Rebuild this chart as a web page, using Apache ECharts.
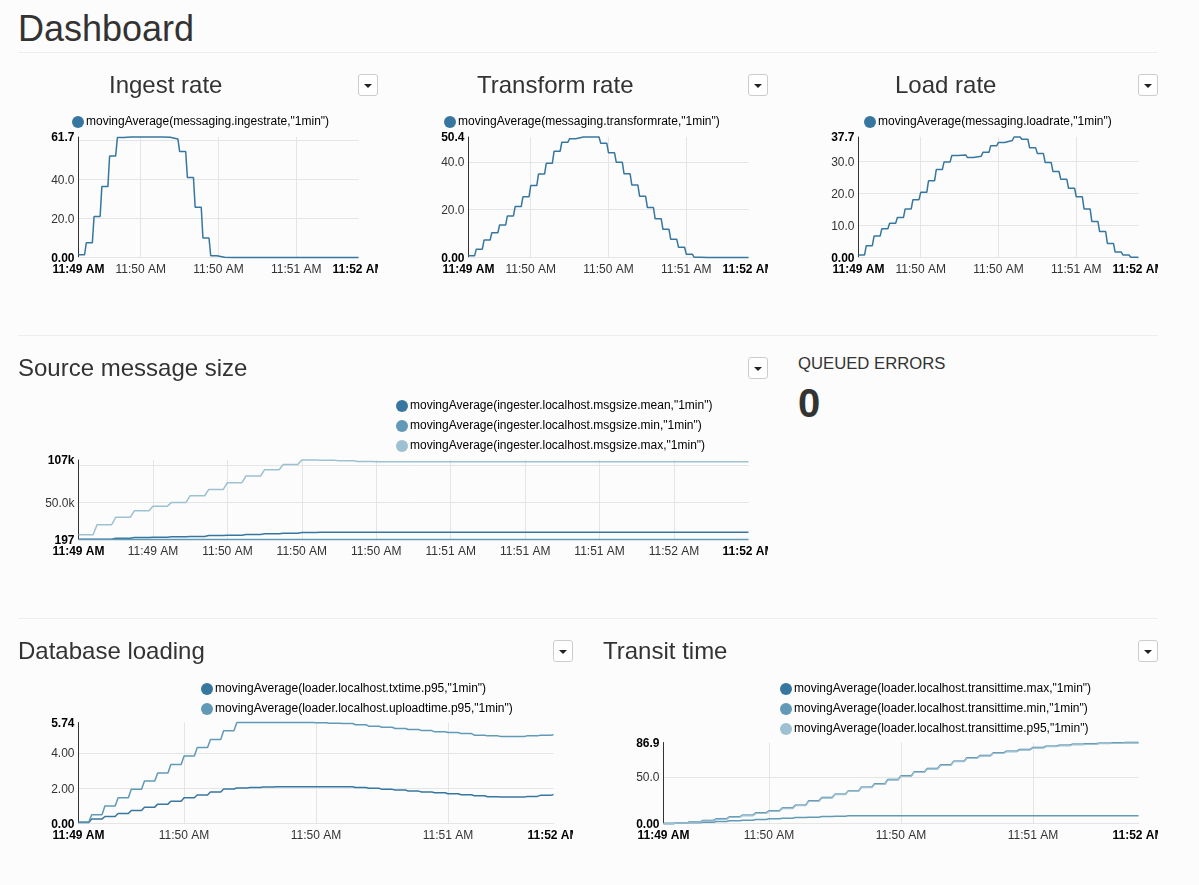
<!DOCTYPE html>
<html>
<head>
<meta charset="utf-8">
<script src="https://cdn.jsdelivr.net/npm/echarts@6/dist/echarts.min.js"></script>
<style>
html,body{margin:0;padding:0;background:#fcfcfc;width:1199px;height:885px;overflow:hidden;font-family:"Liberation Sans",Arial,sans-serif;color:#333}
.abs{position:absolute}
.rule{position:absolute;left:18px;width:1140px;height:1px;background:#eee}
.btn{position:absolute;width:18px;height:20px;border:1px solid #ccc;border-radius:3px;background:#fff}
.btn:after{content:"";position:absolute;left:5px;top:9px;border-left:4px solid transparent;border-right:4px solid transparent;border-top:4px solid #222}
</style>
</head>
<body>
<div class="abs" style="left:18px;top:9px;font-size:36px;line-height:40px">Dashboard</div>
<div class="rule" style="top:52px"></div>
<div class="rule" style="top:335px"></div>
<div class="rule" style="top:618px"></div>
<div class="abs" style="left:798px;top:355px;font-size:16.7px;line-height:18px">QUEUED ERRORS</div>
<div class="abs" style="left:798px;top:380px;font-size:40px;line-height:46px;font-weight:bold">0</div>
<script>
// Series colours
const dark = '#37779f', mid = '#6199b6', light = '#9dc1d1';

// Ingest rate
const ingestRate = [1.4,7.5,21,36.3,52,61.4,61.7,61.7,61.7,61.7,61.7,61.6,60.7,54.3,41,25.7,10,0.9,0.1,0,0,0,0,0,0,0,0,0,0,0,0,0,0,0,0,0,0];
// Transform rate
const transformRate = [0.7,3.5,7.3,10.4,13.6,17.4,21.3,25.4,30.1,34.9,39.4,44.4,48.2,49.7,50.4,50.4,50.4,47.8,43.8,39.8,35,30.3,25.6,20.9,16.2,11.8,7.6,4.3,1.4,0.1,0,0,0,0,0,0,0];
// Load rate
const loadRate = [0.8,3.7,6.7,9,10.7,12.5,15.2,18.1,20.4,24,27.5,29.9,31.9,32.1,31.3,31.7,32.9,35,36,36.6,37.7,37,34.3,32.5,29.7,26.9,24.5,21.7,19,15.2,11.3,8.1,4.4,1.7,0.8,0.1,0];
// Source message size
const msgMean = [500,600,2000,2900,3300,3800,4200,5600,6000,7000,7800,8700,9600,10000,10000,10000,10000,10000,10000,10000,10000,10000,10000,10000,10000,10000,10000,10000,10000,10000,10000,10000,10000,10000,10000,10000,10000];
const msgMin = [197,197,197,197,197,197,197,197,197,197,197,197,197,197,197,197,197,197,197,197,197,197,197,197,197,197,197,197,197,197,197,197,197,197,197,197,197];
const msgMax = [6500,20000,30000,38700,45000,50000,59000,67500,76500,85500,94000,101000,107000,106500,106000,105000,104800,104800,104800,104800,104800,104800,104800,104800,104800,104800,104800,104800,104800,104800,104800,104800,104800,104800,104800,104800,104800];
// Database loading
const txTime = [0.06,0.25,0.4,0.57,0.74,0.93,1.1,1.27,1.46,1.62,1.79,1.96,2.02,2.05,2.07,2.09,2.09,2.09,2.09,2.09,2.09,2.05,2.0,1.94,1.9,1.84,1.79,1.75,1.69,1.63,1.58,1.52,1.5,1.5,1.54,1.6,1.65];
const uploadTime = [0.08,0.5,1.0,1.46,1.94,2.41,2.87,3.35,3.84,4.32,4.77,5.27,5.74,5.74,5.74,5.74,5.74,5.74,5.73,5.7,5.68,5.61,5.53,5.47,5.4,5.34,5.28,5.21,5.17,5.11,5.02,4.98,4.94,4.94,4.98,5.02,5.04];
// Transit time
const transitMax = [0,0.7,1.8,3.2,5,7.2,8.9,11.4,13.6,16.5,19.7,24.3,27.9,31.5,35,39,42.6,47.2,51.1,55.4,59,63,66.9,70.5,73,75.8,77.6,79.4,81.5,83,84,85.1,85.5,86.2,86.5,86.9,86.9];
const transitMin = [0,0.4,0.7,1.4,2.1,2.9,3.6,4.3,5,5.7,6.4,6.8,7.5,7.9,8.2,8.2,8.2,8.2,8.2,8.2,8.2,8.2,8.2,8.2,8.2,8.2,8.2,8.2,8.2,8.2,8.2,8.2,8.2,8.2,8.2,8.2,8.2];
const transitP95 = [0,0.5,1.5,2.8,4.5,6.7,8.4,10.9,13.1,16,19.2,23.8,27.4,31,34.5,38.5,42.1,46.7,50.6,54.9,58.5,62.5,66.4,70,72.5,75.3,77.1,78.9,81,82.5,83.5,84.6,85,85.7,86,86.4,86.4];

// Time ticks (seconds after the first sample) and their labels
const ticks4 = [0,40,90,140,180];
const labels4 = ['11:49 AM','11:50 AM','11:50 AM','11:51 AM','11:52 AM'];
const ticks10 = [0,20,40,60,80,100,120,140,160,180];
const labels10 = ['11:49 AM','11:49 AM','11:50 AM','11:50 AM','11:50 AM','11:51 AM','11:51 AM','11:51 AM','11:52 AM','11:52 AM'];

const sampleSeconds = 5, flatSeconds = 3.9;
function stepped(vals){
  const out = [];
  vals.forEach((v,i)=>{
    out.push([i*sampleSeconds, v]);
    if(i < vals.length-1) out.push([i*sampleSeconds+flatSeconds, v]);
  });
  return out;
}

function panel(p){
  const el = document.createElement('div');
  el.style.cssText = `position:absolute;left:${p.x}px;top:${p.y}px;width:${p.w}px;height:${p.h}px`;
  document.body.appendChild(el);
  const btn = document.createElement('div');
  btn.className = 'btn';
  btn.style.left = (p.x+p.w-20)+'px';
  btn.style.top = (p.btnY)+'px';
  document.body.appendChild(btn);
  const inner = p.ticks.slice(1,-1);
  const chart = echarts.init(el, null, {renderer:'canvas'});
  chart.setOption({
    animation:false,
    backgroundColor:'transparent',
    title:{text:p.title,left:p.titleX-p.x,top:p.titleY+1-p.y,padding:0,
      textStyle:{fontFamily:'Liberation Sans',fontSize:24,fontWeight:'normal',color:'#333'}},
    legend:{orient:'vertical',left:p.legX-p.x,top:p.legY+1-p.y,padding:0,itemWidth:12,itemHeight:12,itemGap:8,icon:'circle',
      textStyle:{fontFamily:'Liberation Sans',fontSize:12,color:'#000',padding:[0,0,0,-3]},
      data:p.series.map(s=>s.name)},
    grid:{left:p.gx-p.x,top:p.gTop-p.y,width:p.gw,height:p.gBottom-p.gTop,outerBoundsMode:'none',containLabel:false},
    xAxis:{type:'value',min:0,max:180,
      axisLine:{show:true,onZero:false,lineStyle:{color:'#e5e5e5',width:1}},
      axisTick:{show:false,customValues:inner},
      splitLine:{show:true,lineStyle:{color:'#e5e5e5',width:1}},
      axisLabel:{customValues:p.ticks,margin:6,hideOverlap:false,fontFamily:'Liberation Sans',fontSize:12,color:'#333',
        formatter:v=>{const i=p.ticks.indexOf(v);const t=p.labels[i];return (i===0||i===p.ticks.length-1)?'{b|'+t+'}':t;},
        rich:{b:{fontFamily:'Liberation Sans',fontSize:12,fontWeight:'bold',color:'#000'}}}},
    yAxis:{type:'value',min:p.yMin,max:p.yMax,
      axisLine:{show:true,onZero:false,lineStyle:{color:'#333',width:1}},
      axisTick:{show:false,customValues:p.yGrid},
      splitLine:{show:true,lineStyle:{color:'#e5e5e5',width:1}},
      axisLabel:{customValues:p.yTicks,margin:4,hideOverlap:false,fontFamily:'Liberation Sans',fontSize:12,color:'#333',padding:[2,0,0,0],
        formatter:v=>{const i=p.yTicks.indexOf(v);const t=p.yLabels[i];return (i===0||i===p.yTicks.length-1)?'{b|'+t+'}':t;},
        rich:{b:{fontFamily:'Liberation Sans',fontSize:12,fontWeight:'bold',color:'#000'}}}},
    series:p.series.map(s=>({name:s.name,type:'line',data:stepped(s.data),showSymbol:false,symbol:'none',
      color:s.color,lineStyle:{color:s.color,width:1.5},itemStyle:{color:s.color},clip:false}))
  });
}

panel({x:18,y:60,w:360,h:230,btnY:74,title:'Ingest rate',titleX:109,titleY:73,legX:72,legY:115,gx:78.5,gw:280,gTop:137,gBottom:257.5,
  ticks:ticks4,labels:labels4,yMin:0,yMax:61.7,yTicks:[0,20,40,61.7],yLabels:['0.00','20.0','40.0','61.7'],yGrid:[0,20,40,60],
  series:[{name:'movingAverage(messaging.ingestrate,"1min")',data:ingestRate,color:dark}]});
panel({x:408,y:60,w:360,h:230,btnY:74,title:'Transform rate',titleX:477,titleY:73,legX:444,legY:115,gx:468.5,gw:280,gTop:137,gBottom:257.5,
  ticks:ticks4,labels:labels4,yMin:0,yMax:50.4,yTicks:[0,20,40,50.4],yLabels:['0.00','20.0','40.0','50.4'],yGrid:[0,20,40],
  series:[{name:'movingAverage(messaging.transformrate,"1min")',data:transformRate,color:dark}]});
panel({x:798,y:60,w:360,h:230,btnY:74,title:'Load rate',titleX:895,titleY:73,legX:864,legY:115,gx:858.5,gw:280,gTop:137,gBottom:257.5,
  ticks:ticks4,labels:labels4,yMin:0,yMax:37.7,yTicks:[0,10,20,30,37.7],yLabels:['0.00','10.0','20.0','30.0','37.7'],yGrid:[0,10,20,30],
  series:[{name:'movingAverage(messaging.loadrate,"1min")',data:loadRate,color:dark}]});
panel({x:18,y:345,w:750,h:225,btnY:357,title:'Source message size',titleX:18,titleY:356,legX:396,legY:399,gx:78.5,gw:670,gTop:460,gBottom:539.5,
  ticks:ticks10,labels:labels10,yMin:197,yMax:107000,yTicks:[197,50000,107000],yLabels:['197','50.0k','107k'],yGrid:[197,50000,100000],
  series:[{name:'movingAverage(ingester.localhost.msgsize.mean,"1min")',data:msgMean,color:dark},
          {name:'movingAverage(ingester.localhost.msgsize.min,"1min")',data:msgMin,color:mid},
          {name:'movingAverage(ingester.localhost.msgsize.max,"1min")',data:msgMax,color:light}]});
panel({x:18,y:630,w:555,h:220,btnY:640,title:'Database loading',titleX:18,titleY:639,legX:201,legY:682,gx:78.5,gw:475,gTop:722.5,gBottom:823.5,
  ticks:ticks4,labels:labels4,yMin:0,yMax:5.74,yTicks:[0,2,4,5.74],yLabels:['0.00','2.00','4.00','5.74'],yGrid:[0,2,4],
  series:[{name:'movingAverage(loader.localhost.txtime.p95,"1min")',data:txTime,color:dark},
          {name:'movingAverage(loader.localhost.uploadtime.p95,"1min")',data:uploadTime,color:mid}]});
panel({x:603,y:630,w:555,h:220,btnY:640,title:'Transit time',titleX:603,titleY:639,legX:780,legY:682,gx:663.5,gw:475,gTop:742.5,gBottom:823.5,
  ticks:ticks4,labels:labels4,yMin:0,yMax:86.9,yTicks:[0,50,86.9],yLabels:['0.00','50.0','86.9'],yGrid:[0,50],
  series:[{name:'movingAverage(loader.localhost.transittime.max,"1min")',data:transitMax,color:dark},
          {name:'movingAverage(loader.localhost.transittime.min,"1min")',data:transitMin,color:mid},
          {name:'movingAverage(loader.localhost.transittime.p95,"1min")',data:transitP95,color:light}]});
</script>
</body>
</html>
